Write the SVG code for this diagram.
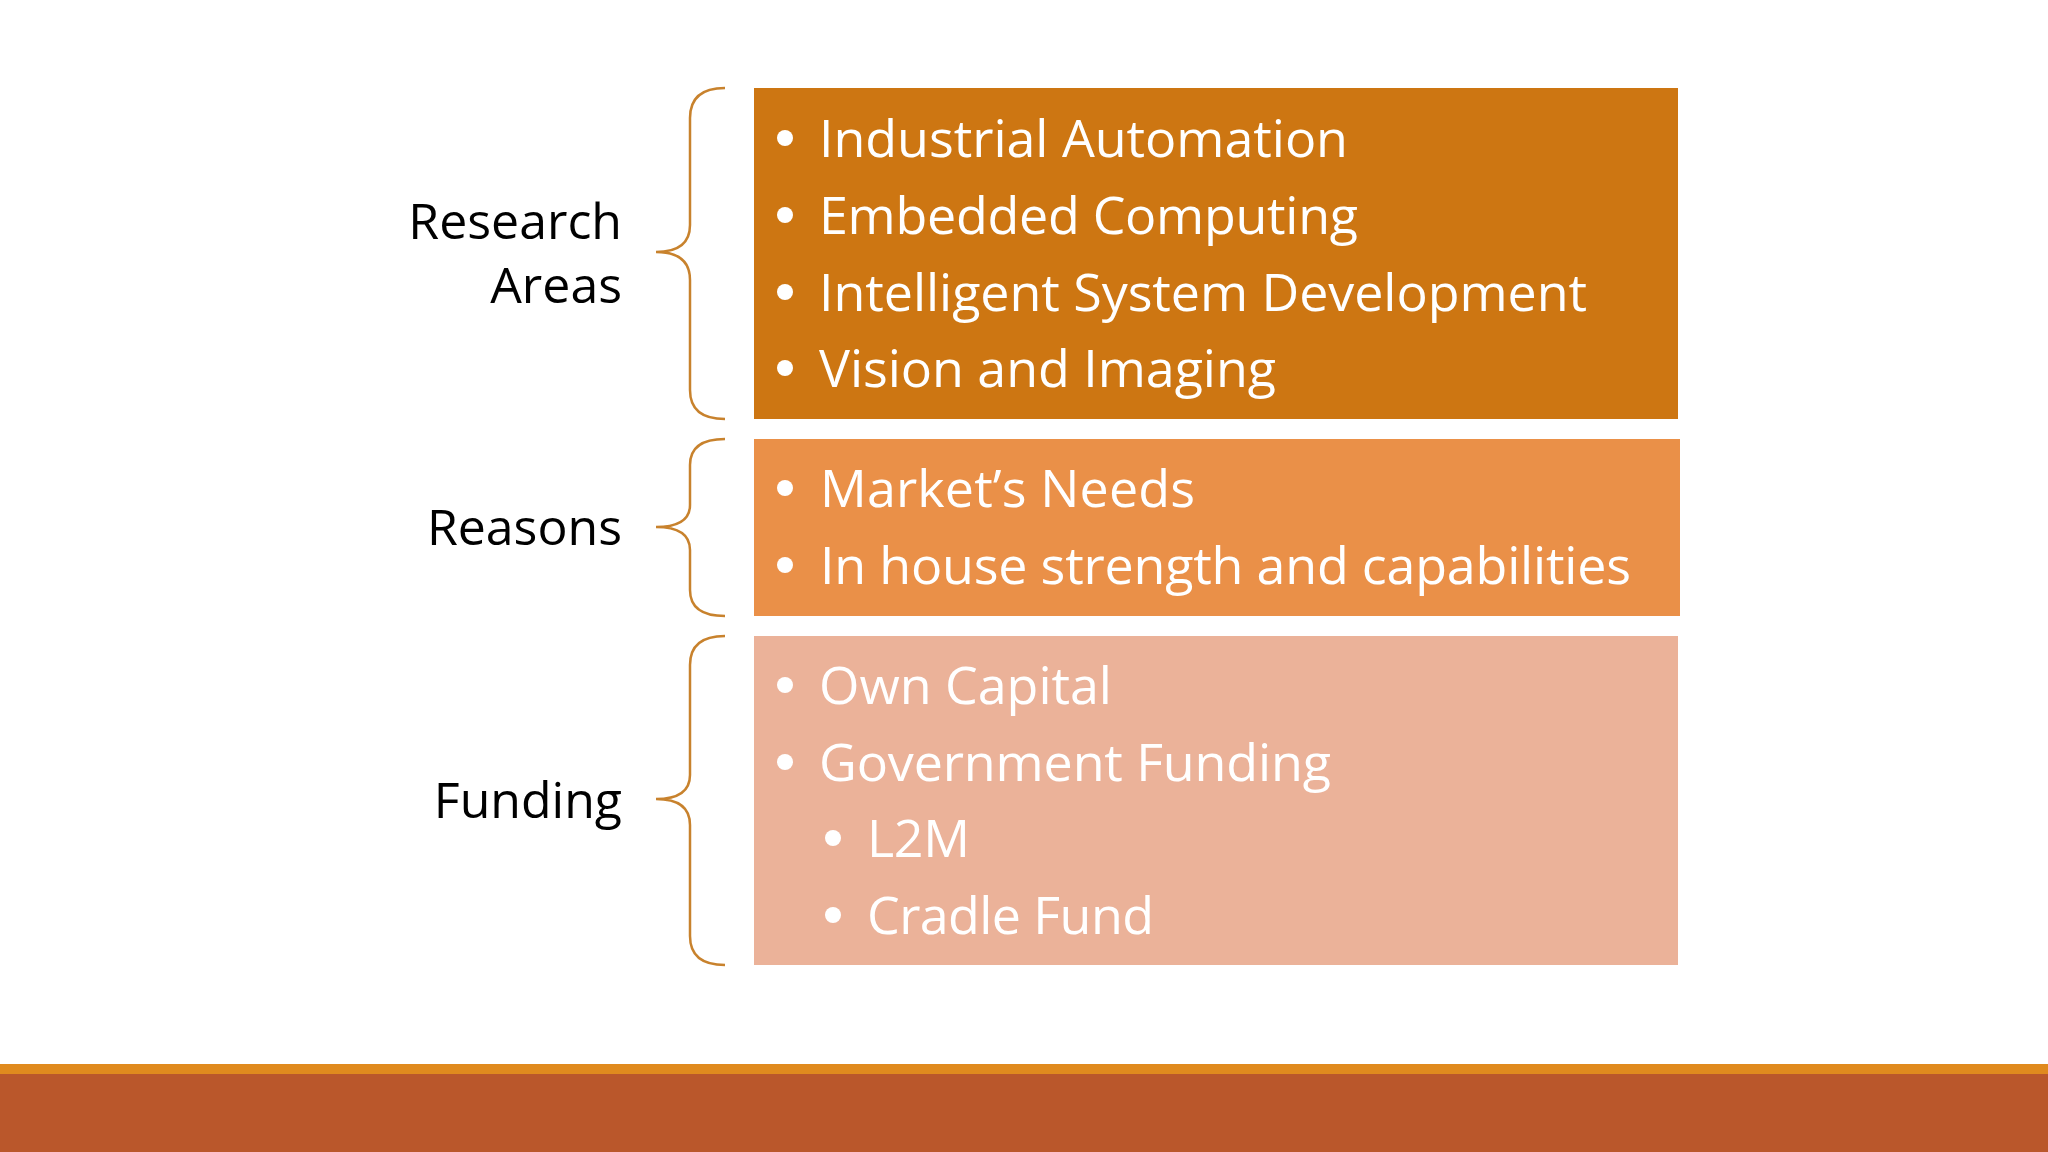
<svg xmlns="http://www.w3.org/2000/svg" width="2048" height="1152" viewBox="0 0 2048 1152">
<style>
.t{font-family:"Open Sans","Noto Sans",sans-serif;font-size:52px;fill:#fff}
.l{font-family:"Open Sans","Noto Sans",sans-serif;font-size:50px;fill:#000;text-anchor:end}
.b{fill:none;stroke:#C8822D;stroke-width:2.5}
</style>
<rect width="2048" height="1152" fill="#fff"/>
<g id="connectors">
<path class="b" d="M725,88 Q690,88 690,118 L690,225 Q690,252 656,252 Q690,252 690,280 L690,390 Q690,419 725,419"/>
<path class="b" d="M725,439 Q690,439 690,465 L690,505 Q690,527 656,527 Q690,527 690,550 L690,590 Q690,616 725,616"/>
<path class="b" d="M725,636 Q690,636 690,665 L690,775 Q690,799 656,799 Q690,799 690,825 L690,936 Q690,965 725,965"/>
</g>
<g id="research">
<rect x="754" y="88" width="924" height="331" fill="#CD7612"/>
<text class="l" x="622" y="239">Research</text><text class="l" x="622" y="303">Areas</text>
<g class="t">
<circle cx="785" cy="138" r="8" fill="#fff"/><text x="819" y="157" textLength="529">Industrial Automation</text>
<circle cx="785" cy="215" r="8" fill="#fff"/><text x="819" y="234" textLength="539">Embedded Computing</text>
<circle cx="785" cy="292" r="8" fill="#fff"/><text x="819" y="311" textLength="768">Intelligent System Development</text>
<circle cx="785" cy="368" r="8" fill="#fff"/><text x="819" y="387" textLength="457">Vision and Imaging</text>
</g></g>
<g id="reasons">
<rect x="754" y="439" width="926" height="177" fill="#EA9048"/>
<text class="l" x="622" y="545">Reasons</text>
<g class="t">
<circle cx="785" cy="488" r="8" fill="#fff"/><text x="820" y="507" textLength="375">Market’s Needs</text>
<circle cx="785" cy="565" r="8" fill="#fff"/><text x="820" y="584" textLength="811">In house strength and capabilities</text>
</g></g>
<g id="funding">
<rect x="754" y="636" width="924" height="329" fill="#EBB299"/>
<text class="l" x="622" y="818">Funding</text>
<g class="t">
<circle cx="785" cy="685" r="8" fill="#fff"/><text x="819" y="704" textLength="293">Own Capital</text>
<circle cx="785" cy="762" r="8" fill="#fff"/><text x="819" y="781" textLength="512">Government Funding</text>
<circle cx="833" cy="838" r="8" fill="#fff"/><text x="867" y="857" textLength="103">L2M</text>
<circle cx="833" cy="915" r="8" fill="#fff"/><text x="867" y="934" textLength="287">Cradle Fund</text>
</g></g>
<rect x="0" y="1064" width="2048" height="10" fill="#E08A1E"/>
<rect x="0" y="1074" width="2048" height="78" fill="#BA572B"/>
</svg>
